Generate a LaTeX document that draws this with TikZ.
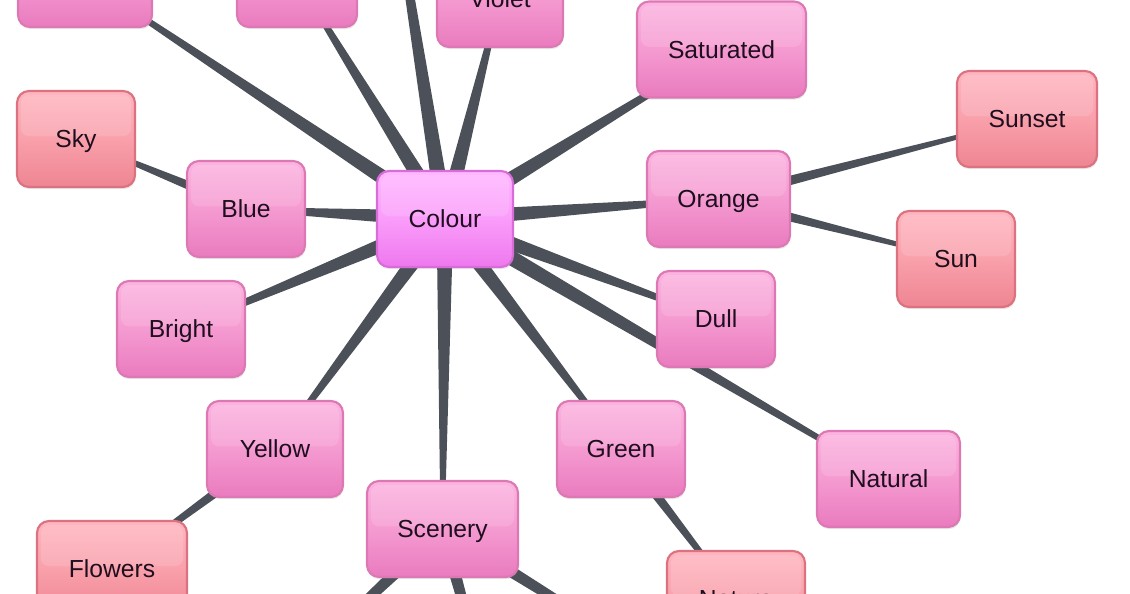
\documentclass[tikz,border=0pt]{standalone}
\usepackage{fontspec}
\setmainfont{Liberation Sans}
\usetikzlibrary{calc,shadows}
\definecolor{edgecol}{HTML}{4B5059}
\definecolor{txtcol}{HTML}{1E0F1E}
\definecolor{pinktop}{HTML}{FCB4E0}
\definecolor{pinkmid}{HTML}{F59AD1}
\definecolor{pinkbot}{HTML}{E97BBE}
\definecolor{pinkborder}{HTML}{DC78B3}
\definecolor{redtop}{HTML}{FFB6C0}
\definecolor{redmid}{HTML}{F9A0AB}
\definecolor{redbot}{HTML}{EE8592}
\definecolor{redborder}{HTML}{DC7280}
\definecolor{viotop}{HTML}{FFB8FF}
\definecolor{viomid}{HTML}{FA9CFA}
\definecolor{viobot}{HTML}{EE78EE}
\definecolor{vioborder}{HTML}{D86CD8}
\pgfdeclarelayer{bg}
\pgfsetlayers{bg,main}
\tikzset{
  mmnode/.style={rounded corners=9pt, draw=#1border, line width=1.6pt,
    top color=#1top, bottom color=#1bot, middle color=#1mid,
    minimum height=72pt, inner sep=0pt, text=txtcol,
    font=\fontsize{18.5}{20}\selectfont, text height=13.2pt, text depth=0pt,
    drop shadow={opacity=0.18, shadow xshift=0.6pt, shadow yshift=-1.6pt},
    path picture={\fill[white,opacity=0.13,rounded corners=6pt]
      ([xshift=3pt,yshift=-3pt]path picture bounding box.north west) rectangle
      ([xshift=-3pt,yshift=2pt]path picture bounding box.east);}},
  pinknode/.style={mmnode=pink, minimum width=#1},
  rednode/.style={mmnode=red, minimum width=#1},
  vionode/.style={mmnode=vio, minimum width=#1},
}
% tapered connector: from, to, half width at start, half width at end
\newcommand\taperline[4]{%
  \fill[edgecol] let \p1=(#1.center), \p2=(#2.center),
    \n1={atan2(\y2-\y1,\x2-\x1)} in
    ($(\p1)+(\n1+90:#3)$) -- ($(\p2)+(\n1+90:#4)$) --
    ($(\p2)+(\n1-90:#4)$) -- ($(\p1)+(\n1-90:#3)$) -- cycle;}
\begin{document}
\begin{tikzpicture}[x=0.75pt,y=-0.75pt]
\useasboundingbox (0,0) rectangle (1130,593);
% nodes (pixel centres)
\node[pinknode=100.5pt] (tl) at (85,-21) {};
\node[pinknode=90pt] (tm) at (297,-21) {};
\node[pinknode=94.5pt] (violet) at (500,-1) {Violet};
\coordinate (top) at (385,-160);
\node[pinknode=126.75pt] (saturated) at (721.5,49.5) {Saturated};
\node[rednode=105pt] (sunset) at (1027,119) {Sunset};
\node[rednode=88.5pt] (sky) at (76,139) {Sky};
\node[pinknode=88.5pt] (blue) at (246,209) {Blue};
\node[vionode=102pt] (colour) at (445,219) {Colour};
\node[pinknode=107.25pt] (orange) at (718.5,199) {Orange};
\node[rednode=88.5pt] (sun) at (956,259) {Sun};
\node[pinknode=96pt] (bright) at (181,329) {Bright};
\node[pinknode=88.5pt] (dull) at (716,319) {Dull};
\node[pinknode=102pt] (yellow) at (275,449) {Yellow};
\node[pinknode=96pt] (green) at (621,449) {Green};
\node[pinknode=107.25pt] (natural) at (888.5,479) {Natural};
\node[pinknode=113.25pt] (scenery) at (442.5,529) {Scenery};
\node[rednode=112.5pt] (flowers) at (112,569) {Flowers};
\node[rednode=103.5pt] (nature) at (736,599) {Nature};
\coordinate (sc1) at (260,700);
\coordinate (sc2) at (496,721);
\coordinate (sc3) at (700,689);
% connectors
\begin{pgfonlayer}{bg}
\foreach \c in {tl,tm,top,violet,saturated,blue,bright,yellow,scenery,green,natural,dull,orange}
  {\taperline{colour}{\c}{6.3pt}{1.5pt}}
\taperline{blue}{sky}{4.2pt}{1.1pt}
\taperline{orange}{sunset}{4.2pt}{1.1pt}
\taperline{orange}{sun}{4.2pt}{1.1pt}
\taperline{yellow}{flowers}{4.2pt}{1.5pt}
\taperline{green}{nature}{4.2pt}{1.5pt}
\taperline{scenery}{sc1}{5pt}{2pt}
\taperline{scenery}{sc2}{5pt}{2pt}
\taperline{scenery}{sc3}{5pt}{2pt}
\end{pgfonlayer}
\end{tikzpicture}
\end{document}
